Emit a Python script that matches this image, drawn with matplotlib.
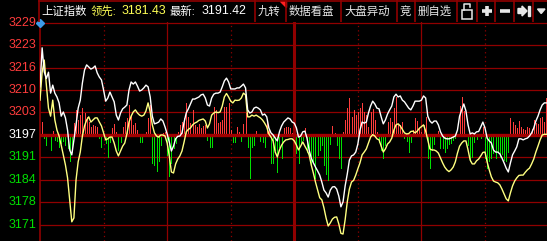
"""上证指数 分时图 (intraday index chart, Tongdaxin style)."""

import matplotlib
matplotlib.use("Agg")
import matplotlib.pyplot as plt
from matplotlib.patches import Polygon, Rectangle
import numpy as np

plt.rcParams["font.family"] = ["Liberation Sans", "Noto Sans CJK SC", "DejaVu Sans"]

# ═══════════════════════════════════════════════════════════════════════════
# data
# ═══════════════════════════════════════════════════════════════════════════

PREV_CLOSE = 3197.2
STEP = 6.45                     # price distance between grid lines
TICK_STEPS = [5, 4, 3, 2, 1, 0, -1, -2, -3, -4]
TICK_LABELS = ["3229", "3223", "3216", "3210", "3203",
               "3197", "3191", "3184", "3178", "3171"]

minutes = np.arange(240)

index_price = [
    3211.0, 3222.2, 3215.3, 3213.4, 3215.2, 3209.2, 3211.5, 3209.2, 3208.1, 3206.4,
    3202.6, 3203.8, 3202.1, 3198.6, 3192.9, 3191.5, 3195.8, 3200.1, 3204.9, 3207.2,
    3212.1, 3215.8, 3217.3, 3216.7, 3216.1, 3216.4, 3217.0, 3215.0, 3213.8, 3213.0,
    3210.1, 3206.9, 3207.8, 3209.5, 3208.1, 3206.7, 3202.9, 3201.5, 3203.5, 3204.7,
    3205.2, 3205.8, 3210.1, 3212.4, 3211.8, 3212.4, 3211.2, 3209.8, 3210.1, 3210.7,
    3211.5, 3211.0, 3208.1, 3202.6, 3200.4, 3200.6, 3200.9, 3201.8, 3201.2, 3199.5,
    3197.5, 3195.2, 3192.6, 3194.0, 3196.1, 3196.8, 3196.9, 3197.8, 3200.9, 3203.5,
    3204.7, 3206.1, 3207.5, 3207.5, 3207.8, 3208.1, 3208.7, 3208.9, 3207.8, 3205.8,
    3205.5, 3207.8, 3208.9, 3209.2, 3209.2, 3209.5, 3211.0, 3212.7, 3213.5, 3212.4,
    3210.4, 3210.4, 3210.4, 3210.7, 3210.7, 3211.2, 3211.8, 3210.7, 3204.4, 3203.5,
    3203.8, 3204.9, 3205.2, 3204.9, 3204.4, 3202.9, 3203.2, 3202.4, 3199.2, 3197.8,
    3197.2, 3196.3, 3195.5, 3198.1, 3199.8, 3200.9, 3201.5, 3202.1, 3201.8, 3200.9,
    3200.6, 3199.2, 3196.6, 3196.9, 3198.1, 3198.3, 3196.3, 3192.9, 3190.6, 3189.2,
    3188.0, 3186.9, 3185.7, 3183.7, 3181.4, 3180.6, 3179.4, 3181.4, 3182.3, 3182.4,
    3181.7, 3179.7, 3176.6, 3178.0, 3182.6, 3186.0, 3190.0, 3191.2, 3191.5, 3192.3,
    3194.6, 3198.6, 3200.9, 3200.6, 3200.9, 3203.5, 3205.5, 3206.9, 3206.1, 3204.9,
    3204.7, 3202.4, 3200.4, 3201.5, 3203.2, 3204.4, 3205.5, 3208.1, 3208.9, 3208.1,
    3208.4, 3207.2, 3206.7, 3205.8, 3204.9, 3204.4, 3205.5, 3206.9, 3206.9, 3206.9,
    3207.2, 3208.4, 3207.8, 3202.6, 3201.2, 3200.6, 3201.2, 3201.2, 3200.1, 3198.1,
    3196.9, 3196.3, 3196.1, 3196.1, 3196.3, 3196.6, 3196.9, 3198.6, 3202.6, 3204.4,
    3206.1, 3204.1, 3200.1, 3197.5, 3197.8, 3197.5, 3198.1, 3198.2, 3199.5, 3200.9,
    3199.2, 3196.3, 3195.5, 3194.9, 3192.9, 3192.3, 3192.3, 3191.8, 3190.6, 3189.2,
    3187.7, 3186.6, 3189.2, 3191.5, 3192.6, 3193.8, 3196.1, 3196.1, 3195.8, 3196.1,
    3196.3, 3196.9, 3197.8, 3199.2, 3201.2, 3202.6, 3204.4, 3205.8, 3206.4, 3206.4,
]

lead_price = [
    3207.2, 3215.2, 3218.7, 3211.5, 3204.9, 3202.6, 3207.2, 3201.5, 3198.6, 3196.9,
    3194.3, 3191.5, 3188.6, 3184.9, 3178.6, 3172.3, 3173.4, 3184.3, 3189.5, 3192.3,
    3196.9, 3199.8, 3201.5, 3202.4, 3200.9, 3201.5, 3202.1, 3202.1, 3200.9, 3199.8,
    3197.8, 3195.8, 3196.1, 3196.6, 3196.6, 3194.9, 3192.6, 3191.2, 3192.6, 3194.0,
    3194.9, 3197.5, 3200.9, 3202.6, 3203.8, 3204.4, 3203.5, 3202.9, 3202.6, 3202.9,
    3204.1, 3206.4, 3203.8, 3200.1, 3197.8, 3196.9, 3196.6, 3197.2, 3197.2, 3196.9,
    3194.9, 3191.2, 3186.6, 3186.3, 3188.9, 3190.3, 3191.2, 3192.6, 3195.2, 3198.1,
    3198.8, 3199.2, 3200.1, 3200.6, 3200.9, 3201.4, 3201.6, 3201.8, 3201.2, 3199.2,
    3200.4, 3202.9, 3203.5, 3203.8, 3203.6, 3203.8, 3205.5, 3208.1, 3209.1, 3208.1,
    3206.9, 3206.4, 3207.2, 3207.1, 3207.2, 3207.8, 3209.2, 3208.7, 3202.4, 3202.4,
    3202.9, 3202.6, 3202.9, 3202.5, 3202.1, 3201.5, 3200.6, 3199.5, 3197.5, 3196.6,
    3195.5, 3192.3, 3190.9, 3192.9, 3194.3, 3195.2, 3195.8, 3195.9, 3196.1, 3196.1,
    3195.5, 3194.3, 3192.9, 3194.0, 3195.2, 3194.0, 3192.9, 3191.5, 3188.6, 3186.3,
    3183.7, 3181.4, 3179.2, 3178.6, 3176.3, 3173.4, 3171.1, 3172.0, 3173.1, 3173.6,
    3173.7, 3171.7, 3169.0, 3168.8, 3172.9, 3178.0, 3181.7, 3183.7, 3184.2, 3185.7,
    3187.5, 3189.2, 3191.5, 3192.3, 3193.2, 3194.9, 3196.6, 3197.3, 3196.9, 3196.1,
    3195.8, 3194.0, 3192.3, 3193.2, 3194.6, 3195.2, 3196.3, 3198.6, 3200.1, 3200.4,
    3199.8, 3198.8, 3197.8, 3197.5, 3197.6, 3198.2, 3198.3, 3197.8, 3198.3, 3199.1,
    3199.6, 3200.1, 3198.3, 3195.8, 3193.2, 3192.9, 3192.9, 3192.6, 3192.0, 3190.6,
    3189.2, 3188.0, 3187.2, 3186.7, 3187.2, 3188.0, 3189.5, 3192.0, 3194.0, 3194.9,
    3195.5, 3195.5, 3192.9, 3190.0, 3188.9, 3188.9, 3189.8, 3190.3, 3191.2, 3192.2,
    3192.3, 3189.5, 3187.2, 3185.2, 3184.0, 3183.7, 3183.5, 3182.9, 3181.7, 3180.3,
    3178.9, 3178.3, 3180.6, 3182.6, 3184.0, 3184.9, 3185.6, 3185.7, 3185.7, 3186.5,
    3187.2, 3187.7, 3188.9, 3190.3, 3192.3, 3194.0, 3195.8, 3197.2, 3197.4, 3197.4,
]

# red/green strength bars (minute, signed length in index points)
bar_min = [
    1, 2, 3, 5, 6, 7, 8, 9, 10, 11, 12, 13, 14, 15, 16, 17, 18, 19, 20, 21,
    22, 23, 24, 25, 26, 27, 28, 29, 31, 32, 33, 34, 35, 36, 37, 38, 39,
    40, 41, 42, 43, 44, 45, 46, 47, 48, 50, 51, 52, 53, 54, 55, 56, 57, 58, 59,
    60, 61, 62, 63, 64, 65, 66, 67, 68, 69, 70, 71, 72, 73, 74, 75, 76, 77, 78, 79,
    80, 81, 82, 83, 84, 85, 86, 87, 88, 89, 90, 91, 92, 93, 94, 95, 96, 97, 98, 99,
    100, 101, 102, 103, 104, 105, 106, 107, 108, 109, 110, 111, 112, 113, 114, 115,
    116, 117, 118, 119, 121, 122, 123, 124, 125, 126, 127, 128, 129, 130, 131, 132,
    133, 134, 135, 136, 137, 138, 139, 140, 141, 142, 143, 144, 145, 146, 147, 148,
    149, 150, 151, 152, 153, 154, 155, 156, 157, 158, 159, 160, 161, 162, 163, 164,
    165, 166, 167, 168, 169, 170, 171, 172, 173, 174, 175, 176, 177, 178, 179, 180,
    181, 182, 183, 184, 185, 186, 188, 189, 190, 191, 192, 193, 194, 195, 196, 198,
    199, 200, 202, 203, 204, 205, 206, 207, 208, 209, 210, 211, 212, 213, 214, 215,
    216, 217, 218, 219, 220, 221, 222, 223, 224, 225, 226, 227, 228, 229, 230, 231,
    232, 233, 234, 235, 236, 237, 238, 239,
]
bar_val = [
    3.6, -0.9, -2.9, -4.3, 1.1, -1.4, -1.7, -3.4, -2.4, -1.7, -2.9, -3.8, -7.6, -4.8, 3.4, 7.2, 4.3, 5.7, 7.6, 6.2,
    5.2, 3.8, 2.4, 2.9, 2.7, 2.4, -0.9, -3.4, -2.4, -6.2, -1.9, 1.9, 3.1, 0.9, -4.3, -1.9, 2.4,
    3.6, 4.8, 8.6, 5.7, 2.9, 3.4, 1.4, -2.1, -2.1, 0.9, 4.8, 8.6, -8.1, -8.6, -10.3, -7.6, -2.9, 0.5, 0.8,
    -5.7, -11.9, -8.1, -3.8, -2.4, 0.9, 2.9, 3.8, 4.8, 9.1, 5.2, 3.4, 7.2, 2.9, 2.4, 3.1, 1.9, 2.7, 2.9, -1.4,
    -3.4, -3.4, 8.1, 7.2, 3.4, 3.8, 4.3, 8.1, 8.1, 9.1, 1.4, -2.1, -2.1, 2.4, 0.9, -1.7, 3.1, 6.2, -3.4, -12.2,
    -3.4, -2.9, 1.1, -0.3, -1.7, -1.9, -3.4, 3.8, 1.4, -8.1, -8.1, -4.3, -10.5, -3.4, -6.7, 2.1,
    2.4, 2.4, 1.9, 0.5, -5.2, -8.1, -2.4, -1.4, 1.9, -4.8, -5.7, -8.4, -7.6, -12.4, -5.7, -4.3,
    -2.9, -8.6, -11.3, -12.9, -2.7, 2.7, 0.5, -2.9, -6.5, -9.4, 0.9, 4.3, 7.6, 10.7, 5.2, 7.2,
    5.7, 6.5, 7.6, 9.1, 6.5, 5.7, 2.4, 6.5, 7.4, 4.3, 0.9, -1.9, -4.3, -6.5, -2.9, 3.6,
    4.8, 3.6, 7.6, 11.0, 2.9, 2.9, 3.8, -0.9, -1.7, -5.0, -1.9, 1.4, 4.8, 4.0, 1.9, 0.9,
    2.9, 5.2, -6.5, -9.4, -4.3, -2.7, 1.1, -3.8, -3.8, -4.8, -3.8, -2.7, -2.4, -1.4, -0.9, 8.4,
    11.0, 7.0, -2.9, -7.4, -6.2, -1.9, -1.1, 0.3, -0.8, 2.4, -6.7, -9.5, -7.6, -6.7, -5.2, -6.7,
    -4.8, -6.2, -5.5, -7.2, -7.4, -4.8, 5.0, 3.6, 2.9, 1.9, 4.0, 2.4, 1.7, 1.4, 2.4, 2.1,
    1.7, 4.3, 3.4, 3.1, 4.8, 5.2, 3.8, 10.5,
]

# ═══════════════════════════════════════════════════════════════════════════
# style
# ═══════════════════════════════════════════════════════════════════════════

W, H, HEAD = 547, 241, 22
GRID = "#900000"
BASE_RED = "#a00000"
UP = "#ff3c3c"
DOWN = "#00e000"
YELLOW = "#ffff80"
TXT = "#e8e8e8"

fig = plt.figure(figsize=(W / 100, H / 100), dpi=100, facecolor="black")

# ═══════════════════════════════════════════════════════════════════════════
# chart
# ═══════════════════════════════════════════════════════════════════════════

ax = fig.add_axes([39.5 / W, 0, (W - 39.5) / W, (H - HEAD) / H], facecolor="black")
ax.set_xlim(-0.24, 239.26)
ax.set_ylim(3166.8, 3229.6)
ax.set_xticks([])
ax.set_yticks([])
for side in ("top", "right", "bottom"):
    ax.spines[side].set_visible(False)
ax.spines["left"].set_color(GRID)
ax.spines["left"].set_linewidth(1.2)

for k in TICK_STEPS:
    if k != 0:
        ax.axhline(PREV_CLOSE + k * STEP, color=GRID, lw=0.9, zorder=1)
for m in (60, 180):
    ax.axvline(m, color=GRID, lw=0.9, zorder=1)
ax.axvline(120, color=GRID, lw=2.2, zorder=1)
for m in (30, 90, 150, 210):
    ax.axvline(m, color=GRID, lw=0.9, ls=(0, (1, 2.5)), zorder=1)

bar_val = np.array(bar_val)
ax.vlines(bar_min, PREV_CLOSE, PREV_CLOSE + bar_val,
          colors=np.where(bar_val > 0, UP, DOWN), lw=0.55,
          antialiased=False, zorder=2)
ax.axhline(PREV_CLOSE, color=BASE_RED, lw=2.4, zorder=3)

ax.plot(minutes, lead_price, color=YELLOW, lw=1.0, zorder=4)
ax.plot(minutes, index_price, color="white", lw=1.0, zorder=5)
ax.plot([0], [PREV_CLOSE + 5 * STEP], marker="D", ms=4, color="#3d9be9",
        clip_on=False, zorder=6)

for k, lab in zip(TICK_STEPS, TICK_LABELS):
    c = UP if k > 0 else (DOWN if k < 0 else "white")
    ax.text(-0.006, PREV_CLOSE + k * STEP, lab, transform=ax.get_yaxis_transform(),
            ha="right", va="center", fontsize=9, color=c, clip_on=False)

# ═══════════════════════════════════════════════════════════════════════════
# header bar
# ═══════════════════════════════════════════════════════════════════════════

hax = fig.add_axes([0, (H - HEAD) / H, 1, HEAD / H], facecolor="black")
hax.set_xlim(0, W)
hax.set_ylim(HEAD, 0)
hax.axis("off")

hax.plot([39, W], [0.6, 0.6], color=GRID, lw=1.2)
hax.plot([39, 39], [0, HEAD], color=GRID, lw=1.2)
for sx in (255, 286, 341, 397, 415, 457, 477, 495, 514, 533):
    hax.plot([sx, sx], [0, HEAD], color=GRID, lw=1.2)

ty = 11.2
hax.text(41, ty, "上证指数", color="white", fontsize=8.2, va="center")
hax.text(91, ty, "领先:", color="#ffff55", fontsize=8.2, va="center")
hax.text(122, ty, "3181.43", color="#ffff55", fontsize=8.9, va="center")
hax.text(170, ty, "最新:", color="white", fontsize=8.2, va="center")
hax.text(202, ty, "3191.42", color="white", fontsize=8.9, va="center")
for x, s in ((258, "九转"), (289, "数据看盘"), (344, "大盘异动"),
             (400, "竞"), (418, "删自选")):
    hax.text(x, ty, s, color=TXT, fontsize=8.2, va="center")

hax.add_patch(Polygon([(279.5, 0.5), (286, 0.5), (286, 7)], color="#ff2020"))

# lock icon
hax.add_patch(Rectangle((462, 10), 10, 9, fill=False, ec=TXT, lw=1.1))
hax.plot([464, 464, 470, 470], [10, 4, 4, 6.5], color=TXT, lw=1.1)
# + / − / jump / dropdown
hax.plot([481.5, 491.5], [11, 11], color=TXT, lw=2.6, solid_capstyle="butt")
hax.plot([486.5, 486.5], [6, 16], color=TXT, lw=2.6, solid_capstyle="butt")
hax.plot([499.5, 509.5], [11, 11], color=TXT, lw=2.6, solid_capstyle="butt")
hax.add_patch(Polygon([(518, 8.5), (522, 8.5), (522, 6), (527, 11), (522, 16),
                       (522, 13.5), (518, 13.5)], color=TXT))
hax.add_patch(Rectangle((528, 6), 2.2, 10, color=TXT))
hax.add_patch(Polygon([(537.5, 9), (545, 9), (541.2, 13.5)], color=TXT))

fig.savefig("out.png", dpi=100, facecolor="black")
